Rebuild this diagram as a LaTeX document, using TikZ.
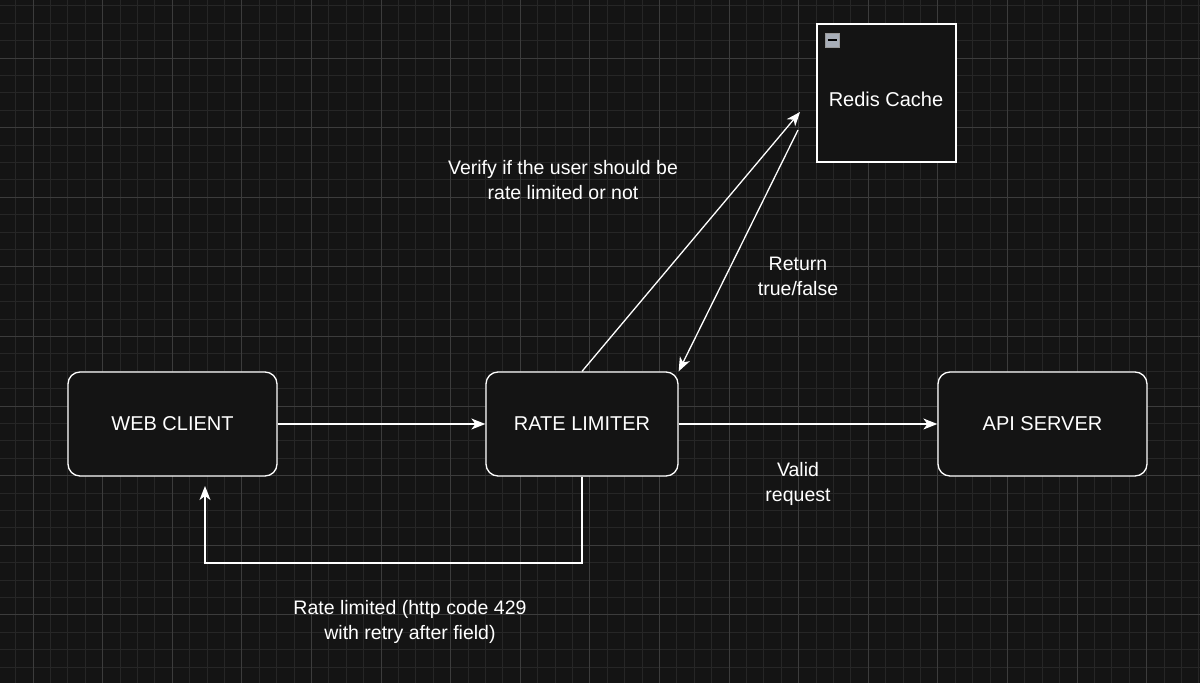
\documentclass[tikz,border=0pt]{standalone}
\usepackage{fontspec}
\setmainfont{Liberation Sans}
\usetikzlibrary{arrows.meta}
\definecolor{bg}{HTML}{141414}
\definecolor{gminor}{HTML}{262626}
\definecolor{gmajor}{HTML}{3C3C3C}
\definecolor{boxbg}{HTML}{141414}
\definecolor{iconc}{HTML}{A8AEB8}
\begin{document}
\begin{tikzpicture}[x=1pt,y=-1pt,
  box/.style={draw=white,line width=1.3pt,rounded corners=12pt,fill=boxbg,text=white,font=\fontsize{20}{22}\selectfont,inner sep=0pt},
  lbl/.style={text=white,font=\fontsize{19.5}{25}\selectfont,align=center},
  conn/.style={draw=white,line width=1.3pt,-{Stealth[length=14pt,width=11pt,inset=4pt]}}]
\fill[bg] (0,0) rectangle (1200,683);
\useasboundingbox (0,0) rectangle (1200,683);
\foreach \i in {0,...,69} {
  \pgfmathsetmacro\xx{15.6+17.4*\i}
  \draw[gminor,line width=1pt] (\xx,0) -- (\xx,683);
}
\foreach \i in {0,...,39} {
  \pgfmathsetmacro\yy{5.8+17.4*\i}
  \draw[gminor,line width=1pt] (0,\yy) -- (1200,\yy);
}
\foreach \i in {0,...,17} {
  \pgfmathsetmacro\xx{33+69.6*\i}
  \draw[gmajor,line width=1pt] (\xx,0) -- (\xx,683);
}
\foreach \i in {0,...,9} {
  \pgfmathsetmacro\yy{58+69.6*\i}
  \draw[gmajor,line width=1pt] (0,\yy) -- (1200,\yy);
}
\node[box,minimum width=209pt,minimum height=104pt] (wc) at (172.5,424) {WEB CLIENT};
\node[box,minimum width=192pt,minimum height=104pt] (rl) at (582,424) {RATE LIMITER};
\node[box,minimum width=209pt,minimum height=104pt] (api) at (1042.5,424) {API SERVER};
\node[draw=white,line width=1.3pt,fill=boxbg,minimum width=139pt,minimum height=138pt] (redis) at (886.5,93) {};
\node[text=white,font=\fontsize{20}{22}\selectfont] (rtxt) at (886,99) {Redis Cache};
\node[draw=gray!80,fill=iconc,minimum width=14pt,minimum height=14pt,inner sep=0pt,line width=0.6pt] (icon) at (832,40) {};
\draw[black,line width=1.5pt] (827.5,40) -- (836.5,40);
\coordinate (rtop) at (800,112);
\coordinate (rsrc) at (798,130);
\coordinate (c1) at (582,563);
\coordinate (c2) at (205,563);
\draw[conn] (wc.east) -- (rl.west);
\draw[conn] (rl.east) -- (api.west);
\draw[conn] (rl.north) -- (rtop);
\draw[conn] (rsrc) -- (rl.north east);
\draw[conn] (rl.south) -- (c1) -- (c2) -- (205,486);
\node[lbl] (l1) at (563,180) {Verify if the user should be\\rate limited or not};
\node[lbl] (l2) at (798,276) {Return\\true/false};
\node[lbl] (l3) at (798,484) {Valid\\request};
\node[lbl] (l4) at (410,622) {Rate limited (http code 429\\with retry after field)};
\end{tikzpicture}
\end{document}
